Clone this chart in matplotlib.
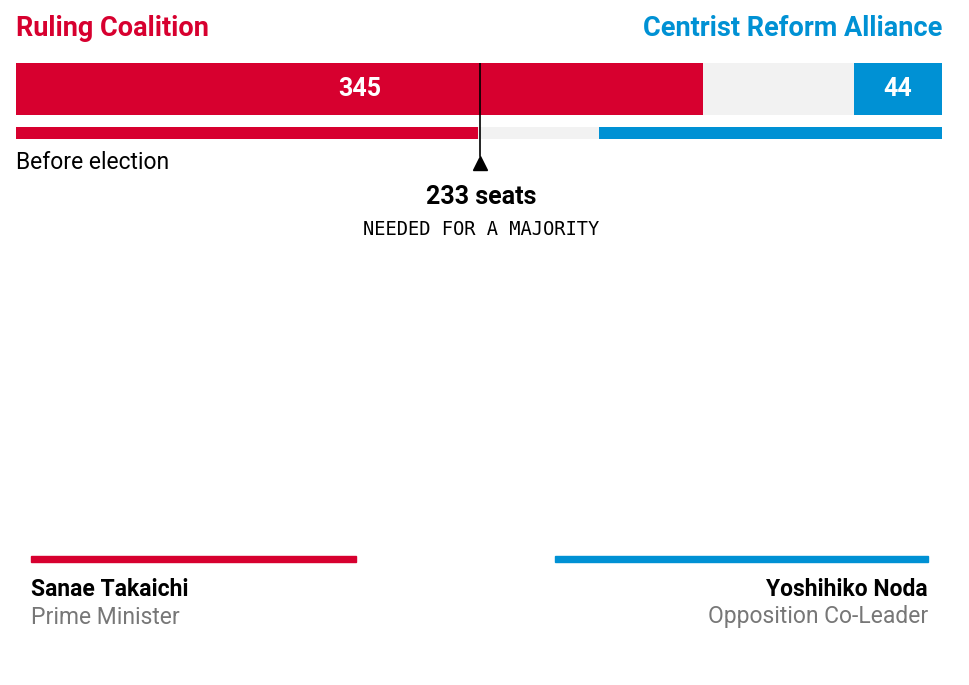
import matplotlib
matplotlib.use("Agg")
import matplotlib.pyplot as plt

TOTAL = 465
MAJORITY = 233
parties = ["Ruling Coalition", "Centrist Reform Alliance"]
seats_after = [345, 44]
seats_before = [232, 172]
leaders = ["Sanae Takaichi", "Yoshihiko Noda"]
roles = ["Prime Minister", "Opposition Co-Leader"]

RED = "#D7002F"
BLUE = "#0091D4"
GREY = "#F2F2F2"
W, H = 969, 685
FONT = ["Roboto", "DejaVu Sans"]

fig = plt.figure(figsize=(W/100, H/100), dpi=100)
ov = fig.add_axes([0, 0, 1, 1])
ov.set_xlim(0, W); ov.set_ylim(H, 0); ov.axis("off")

ax = fig.add_axes([16/W, (H-172)/H, 926/W, (172-63)/H])
ax.set_xlim(0, TOTAL); ax.set_ylim(172, 63); ax.axis("off")

ax.barh(89, TOTAL, height=52, left=0, color=GREY)
ax.barh(89, seats_after[0], height=52, left=0, color=RED)
ax.barh(89, seats_after[1], height=52, left=TOTAL-seats_after[1], color=BLUE)
ax.text(seats_after[0]/2, 89, str(seats_after[0]), color="white", fontsize=18,
        fontweight="bold", ha="center", va="center", family=FONT)
ax.text(TOTAL-seats_after[1]/2, 89, str(seats_after[1]), color="white", fontsize=18,
        fontweight="bold", ha="center", va="center", family=FONT)
ax.barh(133, TOTAL, height=12, left=0, color=GREY)
ax.barh(133, seats_before[0], height=12, left=0, color=RED)
ax.barh(133, seats_before[1], height=12, left=TOTAL-seats_before[1], color=BLUE)
ax.plot([MAJORITY, MAJORITY], [63, 156], color="black", lw=1.2)
ax.plot([MAJORITY], [163], marker="^", color="black", markersize=10)

ov.text(16, 28, parties[0], color=RED, fontsize=19.5, fontweight="bold", va="center", family=FONT)
ov.text(942, 28, parties[1], color=BLUE, fontsize=19.5, fontweight="bold", va="center", ha="right", family=FONT)
ov.text(16, 162, "Before election", fontsize=16.5, va="center", family=FONT)
ov.text(481, 197, "233 seats", fontsize=18, fontweight="bold", va="center", ha="center", family=FONT)
ov.text(481, 229, "NEEDED FOR A MAJORITY", fontsize=13.5, va="center", ha="center",
        family=["DejaVu Sans Mono"])

ov.add_patch(plt.Rectangle((31, 556), 325, 6, color=RED))
ov.add_patch(plt.Rectangle((555, 556), 373, 6, color=BLUE))

ov.text(31, 590, leaders[0], fontsize=16.5, fontweight="bold", va="center", family=FONT)
ov.text(31, 617, roles[0], fontsize=16.5, color="#777777", va="center", family=FONT)
ov.text(928, 590, leaders[1], fontsize=16.5, fontweight="bold", va="center", ha="right", family=FONT)
ov.text(928, 617, roles[1], fontsize=16.5, color="#777777", va="center", ha="right", family=FONT)

fig.savefig("out.png", dpi=100, facecolor="white")
